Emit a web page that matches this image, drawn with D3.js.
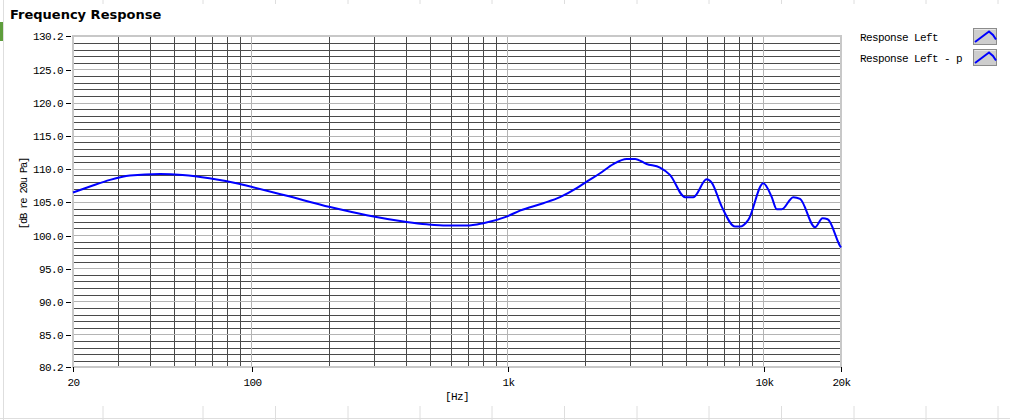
<!DOCTYPE html>
<html>
<head>
<meta charset="utf-8">
<script src="https://cdn.jsdelivr.net/npm/d3@7"></script>
<style>
  body { margin: 0; background: #fff; }
  svg { display: block; }
</style>
</head>
<body>
<div id="chart"></div>
<script>
// Response curve (Hz, dB re 20uPa)
var freqs = [20, 23.3, 27.9, 33.4, 43.8, 53.6, 68.2, 87, 101, 137, 202, 281,
  402, 481, 577, 690, 801, 988, 1114, 1374, 1597, 1856, 2031, 2290, 2580,
  2910, 3136, 3480, 3926, 4294, 4920, 5300, 5977, 6250, 6840, 7710, 8060,
  8690, 9940, 10710, 11220, 11730, 13020, 13840, 15830, 16940, 17740, 19830, 20000];
var spl = [106.5, 107.4, 108.4, 109.05, 109.3, 109.15, 108.66, 107.9, 107.3, 106.0, 104.3, 103.07,
  102.06, 101.7, 101.5, 101.5, 101.86, 102.86, 103.76, 104.88, 105.8, 107.15, 108.15, 109.4, 110.8,
  111.57, 111.57, 110.8, 110.26, 109.16, 105.8, 105.8, 108.5, 108.0, 104.37, 101.35, 101.35,
  102.36, 107.9, 105.88, 103.97, 103.97, 105.8, 105.53, 101.26, 102.6, 102.46, 98.43, 98.2];

var yTicks = [80.2, 85, 90, 95, 100, 105, 110, 115, 120, 125, 130.2];
var yMinor = d3.range(81, 131);
var xTicks = [20, 100, 1000, 10000, 20000];
var xTickLabels = ['20', '100', '1k', '10k', '20k'];
var xMinor = [30, 40, 50, 60, 70, 80, 90, 200, 300, 400, 500, 600, 700, 800, 900,
  2000, 3000, 4000, 5000, 6000, 7000, 8000, 9000];
var legendNames = ['Response Left', 'Response Left - p'];

// spreadsheet cells behind the chart
var sheetCols = [103, 203, 275.5, 348, 420, 492, 564.5, 637, 709, 781.5, 854, 926, 998];

var width = 1010,
    height = 420,
    mono = '"Liberation Mono", monospace';

var svg = d3.select('#chart').append('svg')
  .attr('width', width)
  .attr('height', height);

// sheet background bits
var sheet = svg.append('g').attr('stroke', '#dedede').attr('stroke-width', 1);
sheet.selectAll('.top').data(sheetCols).enter().append('line')
  .attr('x1', function(d) { return d; }).attr('x2', function(d) { return d; })
  .attr('y1', 0).attr('y2', 4);
sheet.selectAll('.bot').data(sheetCols).enter().append('line')
  .attr('x1', function(d) { return d; }).attr('x2', function(d) { return d; })
  .attr('y1', 406).attr('y2', 420);
sheet.append('line').attr('x1', 0).attr('x2', width).attr('y1', 418.5).attr('y2', 418.5);
sheet.append('line').attr('x1', 3.5).attr('x2', 3.5).attr('y1', 0).attr('y2', height);
svg.append('rect').attr('x', 0).attr('y', 22).attr('width', 3).attr('height', 19).attr('fill', '#5e9d3c');

// title
svg.append('text')
  .attr('x', 10).attr('y', 19)
  .style('font-family', '"DejaVu Sans", sans-serif')
  .style('font-weight', 'bold')
  .style('font-size', '13px')
  .text('Frequency Response');

// scales
var x = d3.scaleLog().domain([20, 20000]).range([73, 841]);
var y = d3.scaleLinear().domain([80.2, 130.2]).range([366.7, 35.5]);

// grid
var grid = svg.append('g').attr('shape-rendering', 'crispEdges');
grid.selectAll('.hmin').data(yMinor.filter(function(d) { return yTicks.indexOf(d) < 0; }))
  .enter().append('line')
  .attr('x1', x(20)).attr('x2', x(20000))
  .attr('y1', function(d) { return y(d); }).attr('y2', function(d) { return y(d); })
  .attr('stroke', '#4a4a4a');
grid.selectAll('.vmin').data(xMinor).enter().append('line')
  .attr('x1', function(d) { return x(d); }).attr('x2', function(d) { return x(d); })
  .attr('y1', y(130.2)).attr('y2', y(80.2))
  .attr('stroke', '#4a4a4a');
grid.selectAll('.hmaj').data(yTicks).enter().append('line')
  .attr('x1', x(20)).attr('x2', x(20000))
  .attr('y1', function(d) { return y(d); }).attr('y2', function(d) { return y(d); })
  .attr('stroke', '#b4b4b4');
grid.selectAll('.vmaj').data(xTicks).enter().append('line')
  .attr('x1', function(d) { return x(d); }).attr('x2', function(d) { return x(d); })
  .attr('y1', y(130.2)).attr('y2', y(80.2))
  .attr('stroke', '#b4b4b4');
grid.append('rect')
  .attr('x', x(20)).attr('y', y(130.2))
  .attr('width', x(20000) - x(20)).attr('height', y(80.2) - y(130.2))
  .attr('fill', 'none').attr('stroke', '#c8c8c8').attr('stroke-width', 2);

// axes
var yAxis = svg.append('g')
  .attr('transform', 'translate(71,0)')
  .call(d3.axisLeft(y).tickValues(yTicks).tickFormat(d3.format('.1f')).tickSize(5).tickPadding(3));
var xAxis = svg.append('g')
  .attr('transform', 'translate(0,' + y(80.2) + ')')
  .call(d3.axisBottom(x).tickValues(xTicks)
    .tickFormat(function(d, i) { return xTickLabels[i]; })
    .tickSize(5).tickPadding(7));
[yAxis, xAxis].forEach(function(a) {
  a.select('.domain').remove();
  a.selectAll('line').attr('stroke', '#000').attr('shape-rendering', 'crispEdges');
  a.selectAll('text').style('font-family', mono).style('font-size', '11px')
    .style('letter-spacing', '-0.6px').attr('fill', '#000');
});

svg.append('text')
  .attr('transform', 'translate(27,193.5)rotate(-90)')
  .style('text-anchor', 'middle')
  .style('font-family', mono).style('font-size', '10.5px')
  .style('letter-spacing', '-1.2px')
  .text('[dB re 20u Pa]');
svg.append('text')
  .attr('x', 457).attr('y', 400)
  .style('text-anchor', 'middle')
  .style('font-family', mono).style('font-size', '11px')
  .style('letter-spacing', '-0.6px')
  .text('[Hz]');

// curve
var line = d3.line()
  .x(function(d, i) { return x(freqs[i]); })
  .y(function(d) { return y(d); })
  .curve(d3.curveMonotoneX);
svg.append('path')
  .datum(spl)
  .attr('d', line)
  .attr('fill', 'none')
  .attr('stroke', '#0000ff')
  .attr('stroke-width', 2);

// legend
var leg = svg.selectAll('.legend').data(legendNames).enter().append('g')
  .attr('class', 'legend')
  .attr('transform', function(d, i) { return 'translate(0,' + (i * 21) + ')'; });
leg.append('text')
  .attr('x', 860).attr('y', 41)
  .style('font-family', mono).style('font-size', '11px')
  .style('letter-spacing', '-0.6px')
  .text(function(d) { return d; });
leg.append('rect')
  .attr('x', 973.5).attr('y', 28.5).attr('width', 23).attr('height', 16)
  .attr('fill', '#cdcdcd').attr('stroke', '#8c8c8c');
leg.append('line')
  .attr('x1', 974.5).attr('x2', 995.5).attr('y1', 29.5).attr('y2', 29.5)
  .attr('stroke', '#e6e6e6');
leg.append('polyline')
  .attr('points', '975,42 981,37.5 989,31.5 993,35 996,39.5')
  .attr('fill', 'none').attr('stroke', '#0000ff').attr('stroke-width', 2);
</script>
</body>
</html>
